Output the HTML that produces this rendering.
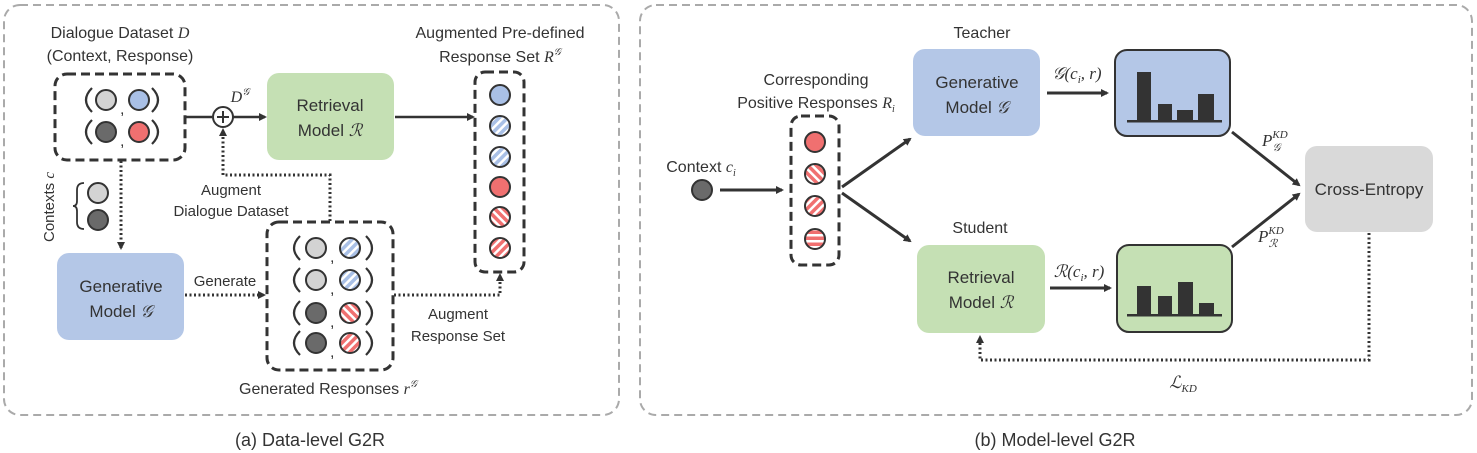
<!DOCTYPE html>
<html><head><meta charset="utf-8"><style>
html,body{margin:0;padding:0;background:#fff}
svg{display:block}
text{font-family:"Liberation Sans",sans-serif;fill:#333}
.m{font-family:"Liberation Serif",serif;font-style:italic}
</style></head><body>
<svg width="1477" height="453" viewBox="0 0 1477 453" xmlns="http://www.w3.org/2000/svg">
<defs>
<marker id="ah" markerWidth="8" markerHeight="8" refX="6" refY="4" orient="auto" markerUnits="userSpaceOnUse"><path d="M0,0 L8,4 L0,8 z" fill="#333"/></marker>
<pattern id="sb" width="6" height="6" patternUnits="userSpaceOnUse" patternTransform="rotate(45)"><rect width="6" height="6" fill="#a9c0e6"/><rect width="2.5" height="6" fill="#fff"/></pattern>
<pattern id="sr" width="6" height="6" patternUnits="userSpaceOnUse" patternTransform="rotate(-45)"><rect width="6" height="6" fill="#f07070"/><rect width="2.5" height="6" fill="#fff"/></pattern>
<pattern id="sr2" width="6" height="6" patternUnits="userSpaceOnUse" patternTransform="rotate(45)"><rect width="6" height="6" fill="#f07070"/><rect width="2.5" height="6" fill="#fff"/></pattern>
<pattern id="sr3" width="6" height="6" patternUnits="userSpaceOnUse" patternTransform="rotate(90)"><rect width="6" height="6" fill="#f07070"/><rect width="2.5" height="6" fill="#fff"/></pattern>
</defs>

<!-- panels -->
<rect x="4" y="5" width="615" height="410" rx="16" fill="none" stroke="#aaa" stroke-width="2" stroke-dasharray="8,5"/>
<rect x="640" y="5" width="832" height="410" rx="16" fill="none" stroke="#aaa" stroke-width="2" stroke-dasharray="8,5"/>
<text x="310" y="446" font-size="18" text-anchor="middle">(a) Data-level G2R</text>
<text x="1055" y="446" font-size="18" text-anchor="middle">(b) Model-level G2R</text>

<!-- LEFT boxes first -->
<rect x="267" y="73" width="127" height="87" rx="12" fill="#c5e0b4"/>
<rect x="57" y="253" width="127" height="87" rx="12" fill="#b4c7e7"/>

<g font-size="16" text-anchor="middle">
<text x="120" y="38">Dialogue Dataset <tspan class="m">D</tspan></text>
<text x="120" y="61">(Context, Response)</text>
<text x="500" y="38">Augmented Pre-defined</text>
<text x="500" y="62">Response Set <tspan class="m">R</tspan><tspan class="m" font-size="10" dy="-7">𝒢</tspan></text>
<text x="330" y="111" font-size="17">Retrieval</text>
<text x="330" y="136" font-size="17">Model <tspan class="m">ℛ</tspan></text>
<text x="121" y="292" font-size="17">Generative</text>
<text x="121" y="317" font-size="17">Model <tspan class="m">𝒢</tspan></text>
<text x="231" y="195" font-size="15">Augment</text>
<text x="231" y="216" font-size="15">Dialogue Dataset</text>
<text x="225" y="286" font-size="15">Generate</text>
<text x="458" y="319" font-size="15">Augment</text>
<text x="458" y="341" font-size="15">Response Set</text>
<text x="328" y="394">Generated Responses <tspan class="m">r</tspan><tspan class="m" font-size="10" dy="-7">𝒢</tspan></text>
<text class="m" x="240" y="102" font-size="16">D<tspan font-size="10" dy="-7">𝒢</tspan></text>
</g>
<text x="0" y="0" font-size="15" text-anchor="middle" transform="translate(54,207) rotate(-90)">Contexts <tspan class="m">c</tspan></text>

<rect x="55" y="74" width="130" height="86" rx="12" fill="none" stroke="#333" stroke-width="3" stroke-dasharray="9,5"/>
<g stroke="#333" stroke-width="2.2" fill="none">
<path d="M92,88 Q80,100 92,112"/><path d="M152,88 Q164,100 152,112"/>
<path d="M92,120 Q80,132 92,144"/><path d="M152,120 Q164,132 152,144"/>
</g>
<g stroke="#333" stroke-width="2">
<circle cx="106" cy="100" r="10" fill="#d3d3d3"/><circle cx="139" cy="100" r="10" fill="#a9c0e6"/>
<circle cx="106" cy="132" r="10" fill="#6a6a6a"/><circle cx="139" cy="132" r="10" fill="#f07070"/>
</g>
<text x="120" y="114" font-size="16">,</text><text x="120" y="146" font-size="16">,</text>

<line x1="185" y1="117" x2="212" y2="117" stroke="#333" stroke-width="2.5"/>
<line x1="233" y1="117" x2="265" y2="117" stroke="#333" stroke-width="2.5" marker-end="url(#ah)"/>
<circle cx="223" cy="117" r="10" fill="#fff" stroke="#333" stroke-width="2"/>
<path d="M217,117 H229 M223,111 V123" stroke="#333" stroke-width="2"/>
<line x1="395" y1="117" x2="473" y2="117" stroke="#333" stroke-width="2.5" marker-end="url(#ah)"/>

<rect x="475" y="72" width="49" height="200" rx="10" fill="none" stroke="#333" stroke-width="3" stroke-dasharray="9,5"/>
<g stroke="#333" stroke-width="2">
<circle cx="500" cy="95" r="10" fill="#a9c0e6"/>
<circle cx="500" cy="126" r="10" fill="url(#sb)"/>
<circle cx="500" cy="157" r="10" fill="url(#sb)"/>
<circle cx="500" cy="187" r="10" fill="#f07070"/>
<circle cx="500" cy="217" r="10" fill="url(#sr)"/>
<circle cx="500" cy="248" r="10" fill="url(#sr2)"/>
</g>

<g stroke="#333" stroke-width="3" stroke-dasharray="2,2.5" fill="none">
<path d="M121,161 V248" marker-end="url(#ah)"/>
<path d="M330,221 V175 H223 V130" marker-end="url(#ah)"/>
<path d="M185,295 H264" marker-end="url(#ah)"/>
<path d="M394,295 H500 V275" marker-end="url(#ah)"/>
</g>

<path d="M84,183 Q77,183 77,190 V201 Q77,206 73,206 Q77,206 77,211 V222 Q77,229 84,229" stroke="#333" stroke-width="1.8" fill="none"/>
<circle cx="98" cy="193" r="10" fill="#d3d3d3" stroke="#333" stroke-width="2"/>
<circle cx="98" cy="220" r="10" fill="#6a6a6a" stroke="#333" stroke-width="2"/>

<rect x="267" y="222" width="126" height="148" rx="12" fill="none" stroke="#333" stroke-width="3" stroke-dasharray="9,5"/>
<g stroke="#333" stroke-width="2.2" fill="none">
<path d="M300,236 Q288,248 300,260"/><path d="M366,236 Q378,248 366,260"/>
<path d="M300,268 Q288,280 300,292"/><path d="M366,268 Q378,280 366,292"/>
<path d="M300,301 Q288,313 300,325"/><path d="M366,301 Q378,313 366,325"/>
<path d="M300,331 Q288,343 300,355"/><path d="M366,331 Q378,343 366,355"/>
</g>
<g stroke="#333" stroke-width="2">
<circle cx="316" cy="248" r="10" fill="#d3d3d3"/><circle cx="350" cy="248" r="10" fill="url(#sb)"/>
<circle cx="316" cy="280" r="10" fill="#d3d3d3"/><circle cx="350" cy="280" r="10" fill="url(#sb)"/>
<circle cx="316" cy="313" r="10" fill="#6a6a6a"/><circle cx="350" cy="313" r="10" fill="url(#sr)"/>
<circle cx="316" cy="343" r="10" fill="#6a6a6a"/><circle cx="350" cy="343" r="10" fill="url(#sr2)"/>
</g>
<text x="330" y="262" font-size="16">,</text><text x="330" y="294" font-size="16">,</text><text x="330" y="327" font-size="16">,</text><text x="330" y="357" font-size="16">,</text>

<!-- RIGHT -->
<rect x="913" y="49" width="127" height="87" rx="12" fill="#b4c7e7"/>
<rect x="917" y="245" width="128" height="88" rx="12" fill="#c5e0b4"/>
<rect x="1305" y="146" width="128" height="86" rx="12" fill="#d9d9d9"/>
<g font-size="16" text-anchor="middle">
<text x="982" y="38">Teacher</text>
<text x="980" y="233">Student</text>
<text x="816" y="85">Corresponding</text>
<text x="816" y="108">Positive Responses <tspan class="m">R</tspan><tspan class="m" font-size="10" dy="4">i</tspan></text>
<text x="701" y="172">Context <tspan class="m">c</tspan><tspan class="m" font-size="10" dy="4">i</tspan></text>
<text x="977" y="88" font-size="17">Generative</text>
<text x="977" y="113" font-size="17">Model <tspan class="m">𝒢</tspan></text>
<text x="981" y="283" font-size="17">Retrieval</text>
<text x="981" y="308" font-size="17">Model <tspan class="m">ℛ</tspan></text>
<text x="1369" y="195" font-size="17">Cross-Entropy</text>
</g>

<text class="m" x="1077" y="79" font-size="17" text-anchor="middle">𝒢(c<tspan font-size="11" dy="4">i</tspan><tspan dy="-4">, r)</tspan></text>
<text class="m" x="1079" y="277" font-size="17" text-anchor="middle">ℛ(c<tspan font-size="11" dy="4">i</tspan><tspan dy="-4">, r)</tspan></text>
<text class="m" x="1262" y="146" font-size="17">P<tspan font-size="11" dy="-8">KD</tspan><tspan font-size="11" dx="-15" dy="13">𝒢</tspan></text>
<text class="m" x="1258" y="242" font-size="17">P<tspan font-size="11" dy="-8">KD</tspan><tspan font-size="11" dx="-15" dy="13">ℛ</tspan></text>
<text class="m" x="1183" y="388" font-size="17" text-anchor="middle">ℒ<tspan font-size="11" dy="4">KD</tspan></text>

<rect x="1115" y="50" width="115" height="86" rx="12" fill="#b4c7e7" stroke="#333" stroke-width="2"/>
<g fill="#333">
<rect x="1137" y="72" width="14" height="49"/><rect x="1158" y="104" width="14" height="17"/>
<rect x="1177" y="110" width="16" height="11"/><rect x="1198" y="94" width="16" height="27"/>
<rect x="1127" y="120" width="95" height="2.5"/>
</g>
<rect x="1117" y="245" width="115" height="87" rx="12" fill="#c5e0b4" stroke="#333" stroke-width="2"/>
<g fill="#333">
<rect x="1137" y="286" width="14" height="29"/><rect x="1158" y="296" width="14" height="19"/>
<rect x="1178" y="282" width="15" height="33"/><rect x="1199" y="303" width="15" height="12"/>
<rect x="1127" y="314" width="95" height="2.5"/>
</g>

<rect x="791" y="116" width="48" height="149" rx="10" fill="none" stroke="#333" stroke-width="3" stroke-dasharray="9,5"/>
<g stroke="#333" stroke-width="2">
<circle cx="815" cy="142" r="10" fill="#f07070"/>
<circle cx="815" cy="174" r="10" fill="url(#sr)"/>
<circle cx="815" cy="206" r="10" fill="url(#sr2)"/>
<circle cx="815" cy="239" r="10" fill="url(#sr3)"/>
<circle cx="702" cy="190" r="10" fill="#6a6a6a"/>
</g>

<g stroke="#333" stroke-width="3" fill="none">
<line x1="720" y1="190" x2="782" y2="190" marker-end="url(#ah)"/>
<line x1="842" y1="187" x2="910" y2="139" marker-end="url(#ah)"/>
<line x1="842" y1="193" x2="910" y2="241" marker-end="url(#ah)"/>
<line x1="1047" y1="93" x2="1107" y2="93" marker-end="url(#ah)"/>
<line x1="1050" y1="288" x2="1110" y2="288" marker-end="url(#ah)"/>
<line x1="1232" y1="132" x2="1299" y2="185" marker-end="url(#ah)"/>
<line x1="1232" y1="247" x2="1299" y2="194" marker-end="url(#ah)"/>
</g>
<path d="M1369,233 V360 H980 V337" stroke="#333" stroke-width="3" stroke-dasharray="2,2.5" fill="none" marker-end="url(#ah)"/>
</svg>
</body></html>
